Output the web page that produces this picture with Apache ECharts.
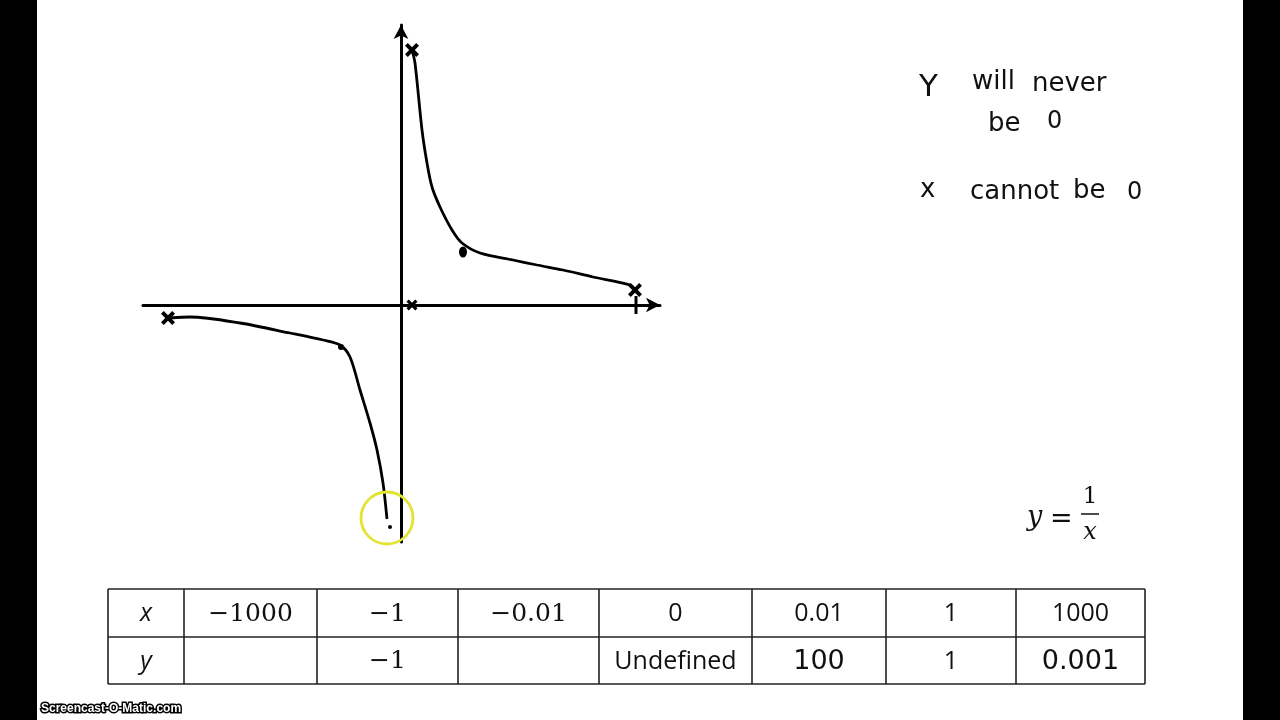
<!DOCTYPE html>
<html>
<head>
<meta charset="utf-8">
<script src="https://cdn.jsdelivr.net/npm/echarts@6/dist/echarts.min.js"></script>
<style>html,body{margin:0;padding:0;background:#fff}#c{width:1280px;height:720px}</style>
</head>
<body>
<div id="c"></div>
<script>
// Sketch coordinates (origin at the drawn axes' crossing)
const upperX = [11, 14, 21, 26, 31, 39, 51, 61, 79, 112, 136, 162, 192, 229, 234];
const upperY = [255, 242, 175, 142, 118, 98, 75, 62, 52, 45, 40, 35, 28, 20, 15];
const lowerX = [-231, -211, -161, -111, -78, -61, -51, -41, -31, -24, -18, -14];
const lowerY = [-13, -12, -18, -28, -35, -40, -52, -85, -118, -145, -178, -214];
const crossX = [11, 234, -233, 11];
const crossY = [255, 15, -13, 0];
const dotX = [62, -60, -11];
const dotY = [53, -42, -222];
const tickX = [235];
const tickY = [0];
const highlightX = [-14];
const highlightY = [-213];

// Table contents
const tableX = ['x', '\u22121000', '\u22121', '\u22120.01', '0', '0.01', '1', '1000'];
const tableY = ['y', '', '\u22121', '', 'Undefined', '100', '1', '0.001'];

// Notes
const noteWords = ['Y', 'will', 'never', 'be', '0', 'x', 'cannot', 'be', '0'];

const zip = (a, b) => a.map((v, i) => [v, b[i]]);

// ---- layout ----
const colEdges = [108, 184, 317, 458, 599, 752, 886, 1016, 1145];
const rowEdges = [589, 637, 684];
// cell font kinds: 0 = italic var, 1 = math serif, 2 = sans, 3 = handwriting
const kindX = [0, 1, 1, 1, 2, 2, 2, 2];
const kindY = [0, 1, 1, 1, 2, 3, 2, 3];
const hand = "'DejaVu Sans', sans-serif";
function cellFont(kind) {
  if (kind === 0) return "italic 25px 'Open Sans', sans-serif";
  if (kind === 1) return "25px 'DejaVu Serif', serif";
  if (kind === 2) return "25px 'Open Sans', sans-serif";
  return "27px " + hand;
}

const graphics = [];
// black side bars
graphics.push({ type: 'rect', shape: { x: 0, y: 0, width: 37, height: 720 }, style: { fill: '#000' }, z: 10 });
graphics.push({ type: 'rect', shape: { x: 1243, y: 0, width: 37, height: 720 }, style: { fill: '#000' }, z: 10 });

// table lines
const tl = { stroke: '#222', lineWidth: 1.6 };
rowEdges.forEach(y => graphics.push({ type: 'line', shape: { x1: colEdges[0], y1: y, x2: colEdges[colEdges.length - 1], y2: y }, style: tl }));
colEdges.forEach(x => graphics.push({ type: 'line', shape: { x1: x, y1: rowEdges[0], x2: x, y2: rowEdges[2] }, style: tl }));
[tableX, tableY].forEach((row, r) => {
  const kinds = r === 0 ? kindX : kindY;
  row.forEach((t, i) => {
    if (!t) return;
    const cx = (colEdges[i] + colEdges[i + 1]) / 2;
    const cy = (rowEdges[r] + rowEdges[r + 1]) / 2 + 1;
    graphics.push({
      type: 'text', x: cx, y: cy,
      style: { text: t, font: cellFont(kinds[i]), fill: '#111', textAlign: 'center', textVerticalAlign: 'middle' }
    });
  });
});

// handwritten notes
const notePos = [[919, 88, 31], [972, 82, 26], [1032, 84, 26], [988, 124, 26], [1047, 122, 24],
                 [920, 190, 26], [970, 192, 26], [1073, 191, 26], [1127, 193, 24]];
noteWords.forEach((w, i) => {
  graphics.push({
    type: 'text', x: notePos[i][0], y: notePos[i][1],
    style: { text: w, font: notePos[i][2] + 'px ' + hand, fill: '#111', textAlign: 'left', textVerticalAlign: 'middle' }
  });
});

// formula y = 1/x
graphics.push({ type: 'text', x: 1027, y: 518, style: { text: 'y', font: "italic 27px 'DejaVu Serif', serif", fill: '#111', textVerticalAlign: 'middle' } });
graphics.push({ type: 'text', x: 1050, y: 520, style: { text: '=', font: "27px 'DejaVu Serif', serif", fill: '#111', textVerticalAlign: 'middle' } });
graphics.push({ type: 'text', x: 1090, y: 497, style: { text: '1', font: "23px 'DejaVu Serif', serif", fill: '#111', textAlign: 'center', textVerticalAlign: 'middle' } });
graphics.push({ type: 'line', shape: { x1: 1081, y1: 514, x2: 1099, y2: 514 }, style: { stroke: '#111', lineWidth: 1.5 } });
graphics.push({ type: 'text', x: 1090, y: 533, style: { text: 'x', font: "italic 24px 'DejaVu Serif', serif", fill: '#111', textAlign: 'center', textVerticalAlign: 'middle' } });

// watermark
graphics.push({
  type: 'text', x: 41, y: 709, z: 20,
  style: { text: 'Screencast-O-Matic.com', font: "bold 12px 'Liberation Sans', Arial, sans-serif", fill: '#fff', stroke: '#000', lineWidth: 3, textVerticalAlign: 'middle' }
});

const crossPath = 'path://M0,4 L4,0 L10,6 L16,0 L20,4 L14,10 L20,16 L16,20 L10,14 L4,20 L0,16 L6,10 Z';

const chart = echarts.init(document.getElementById('c'));
chart.setOption({
  animation: false,
  backgroundColor: '#fff',
  grid: { left: 143, right: 620, top: 25, bottom: 178 },
  xAxis: {
    type: 'value', min: -258, max: 259,
    axisLine: { show: true, onZero: true, symbol: ['none', 'arrow'], symbolSize: [11, 14], lineStyle: { color: '#000', width: 3 } },
    axisTick: { show: false }, axisLabel: { show: false }, splitLine: { show: false }
  },
  yAxis: {
    type: 'value', min: -237, max: 280,
    axisLine: { show: true, onZero: true, symbol: ['none', 'arrow'], symbolSize: [11, 14], lineStyle: { color: '#000', width: 3 } },
    axisTick: { show: false }, axisLabel: { show: false }, splitLine: { show: false }
  },
  series: [
    { type: 'line', data: zip(upperX, upperY), smooth: 0.3, showSymbol: false, lineStyle: { color: '#000', width: 2.8 } },
    { type: 'line', data: zip(lowerX, lowerY), smooth: 0.3, showSymbol: false, lineStyle: { color: '#000', width: 2.8 } },
    { type: 'scatter', data: zip(crossX, crossY), symbol: crossPath, symbolSize: (v, p) => p.dataIndex === 3 ? 11 : 14, itemStyle: { color: '#000', opacity: 1 }, z: 3 },
    { type: 'scatter', data: zip(dotX, dotY), symbol: 'circle', symbolSize: (v, p) => [[8, 11], [6, 6], [4, 4]][p.dataIndex], itemStyle: { color: '#000', opacity: 1 }, z: 3 },
    { type: 'scatter', data: zip(tickX, tickY), symbol: 'rect', symbolSize: [3, 18], itemStyle: { color: '#000', opacity: 1 }, z: 3 },
    { type: 'scatter', data: zip(highlightX, highlightY), symbol: 'circle', symbolSize: 52,
      itemStyle: { color: 'rgba(0,0,0,0)', borderColor: '#e2e332', borderWidth: 2.8, opacity: 1 }, z: 4 }
  ],
  graphic: graphics
});
</script>
</body>
</html>
